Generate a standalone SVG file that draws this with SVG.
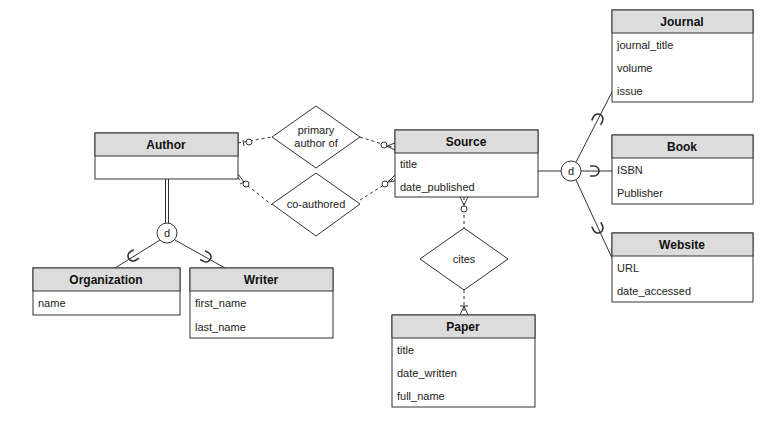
<svg xmlns="http://www.w3.org/2000/svg" width="780" height="422" viewBox="0 0 780 422">
<style>
.box{fill:#fff;stroke:#333;stroke-width:1}
.hd{fill:#dcdcdc;stroke:#333;stroke-width:1}
.t{font-family:"Liberation Sans",Arial,sans-serif;font-size:11px;fill:#222}
.h{font-family:"Liberation Sans",Arial,sans-serif;font-size:12px;font-weight:bold;fill:#111;text-anchor:middle}
.c{text-anchor:middle}
.ln{stroke:#333;fill:none;stroke-width:1}
.ds{stroke:#333;fill:none;stroke-width:1;stroke-dasharray:3 3}
.dia{fill:#fff;stroke:#333}
.sub{fill:none;stroke:#333;stroke-width:1.6}
</style>
<rect width="780" height="422" fill="#fff"/>
<g id="connectors">
<line class="ds" x1="238" y1="143" x2="272" y2="137"/>
<line class="ds" x1="360" y1="137" x2="395" y2="148"/>
<line class="ds" x1="238" y1="178" x2="272" y2="205"/>
<line class="ds" x1="360" y1="200" x2="395" y2="178"/>
<line class="ds" x1="464" y1="197" x2="464" y2="228"/>
<line class="ds" x1="464" y1="290" x2="464" y2="315"/>
<!-- markers -->
<path class="ln" d="M243 140 L244 146"/>
<circle cx="249" cy="142" r="3" fill="#fff" stroke="#333"/>
<circle cx="384" cy="145" r="3" fill="#fff" stroke="#333"/>
<path class="ln" d="M387 146 L395 143 M387 146 L395 150"/>
<path class="ln" d="M238 174 L244 182 L240 184"/>
<circle cx="246" cy="184" r="3" fill="#fff" stroke="#333"/>
<circle cx="385" cy="184" r="3" fill="#fff" stroke="#333"/>
<path class="ln" d="M388 182 L395 175 M388 182 L395 181"/>
<path class="ln" d="M460 197 L464 205 L468 197"/>
<circle cx="464" cy="209" r="3" fill="#fff" stroke="#333"/>
<path class="ln" d="M460 315 L464 306 L468 315 M460 306 L468 306"/>
<!-- Author disjoint -->
<line class="ln" x1="165.5" y1="179" x2="165.5" y2="223"/>
<line class="ln" x1="168.5" y1="179" x2="168.5" y2="223"/>
<line class="ln" x1="160" y1="240" x2="115" y2="268"/>
<line class="ln" x1="175" y1="240" x2="225" y2="268"/>
<path class="sub" transform="translate(133,256) rotate(148)" d="M-4 -5 L0 -5 A5 5 0 0 1 0 5 L-4 5"/>
<path class="sub" transform="translate(206,257) rotate(29)" d="M-4 -5 L0 -5 A5 5 0 0 1 0 5 L-4 5"/>
<!-- Source disjoint -->
<line class="ln" x1="538" y1="171" x2="561" y2="171"/>
<line class="ln" x1="576" y1="162" x2="612" y2="92"/>
<line class="ln" x1="581" y1="171" x2="612" y2="171"/>
<line class="ln" x1="576" y1="180" x2="612" y2="258"/>
<path class="sub" transform="translate(598,119) rotate(-63)" d="M-4 -5 L0 -5 A5 5 0 0 1 0 5 L-4 5"/>
<path class="sub" transform="translate(594,171)" d="M-4 -5 L0 -5 A5 5 0 0 1 0 5 L-4 5"/>
<path class="sub" transform="translate(598,228) rotate(65)" d="M-4 -5 L0 -5 A5 5 0 0 1 0 5 L-4 5"/>
</g>
<g id="d1"><circle cx="167" cy="233" r="10" fill="#fff" stroke="#333"/><text class="t c" x="167" y="237">d</text></g>
<g id="d2"><circle cx="571" cy="171" r="10" fill="#fff" stroke="#333"/><text class="t c" x="571" y="175">d</text></g>
<g id="primary"><polygon class="dia" points="316,106 360,137 316,168 272,137"/><text class="t c" x="316" y="134">primary</text><text class="t c" x="316" y="147">author of</text></g>
<g id="coauthored"><polygon class="dia" points="316,173 360,204 316,236 272,204"/><text class="t c" x="316" y="208">co-authored</text></g>
<g id="cites"><polygon class="dia" points="464,228 508,259 464,290 420,259"/><text class="t c" x="464" y="263">cites</text></g>
<g id="Author"><rect class="box" x="95" y="133" width="143" height="46"/><rect class="hd" x="95" y="133" width="143" height="23"/><text class="h" x="166" y="149">Author</text></g>
<g id="Source"><rect class="box" x="395" y="130" width="143" height="67"/><rect class="hd" x="395" y="130" width="143" height="23"/><text class="h" x="466" y="146">Source</text><text class="t" x="400" y="168">title</text><text class="t" x="400" y="191">date_published</text></g>
<g id="Journal"><rect class="box" x="612" y="10" width="141" height="92"/><rect class="hd" x="612" y="10" width="141" height="23"/><text class="h" x="682" y="26">Journal</text><text class="t" x="617" y="49">journal_title</text><text class="t" x="617" y="72">volume</text><text class="t" x="617" y="95">issue</text></g>
<g id="Book"><rect class="box" x="612" y="135" width="141" height="69"/><rect class="hd" x="612" y="135" width="141" height="23"/><text class="h" x="682" y="151">Book</text><text class="t" x="617" y="174">ISBN</text><text class="t" x="617" y="197">Publisher</text></g>
<g id="Website"><rect class="box" x="612" y="233" width="141" height="69"/><rect class="hd" x="612" y="233" width="141" height="23"/><text class="h" x="682" y="249">Website</text><text class="t" x="617" y="272">URL</text><text class="t" x="617" y="295">date_accessed</text></g>
<g id="Organization"><rect class="box" x="33" y="268" width="147" height="47"/><rect class="hd" x="33" y="268" width="147" height="23"/><text class="h" x="106" y="284">Organization</text><text class="t" x="38" y="307">name</text></g>
<g id="Writer"><rect class="box" x="190" y="268" width="143" height="70"/><rect class="hd" x="190" y="268" width="143" height="23"/><text class="h" x="261" y="284">Writer</text><text class="t" x="195" y="307">first_name</text><text class="t" x="195" y="331">last_name</text></g>
<g id="Paper"><rect class="box" x="392" y="315" width="143" height="92"/><rect class="hd" x="392" y="315" width="143" height="23"/><text class="h" x="463" y="331">Paper</text><text class="t" x="397" y="354">title</text><text class="t" x="397" y="377">date_written</text><text class="t" x="397" y="400">full_name</text></g>
</svg>
